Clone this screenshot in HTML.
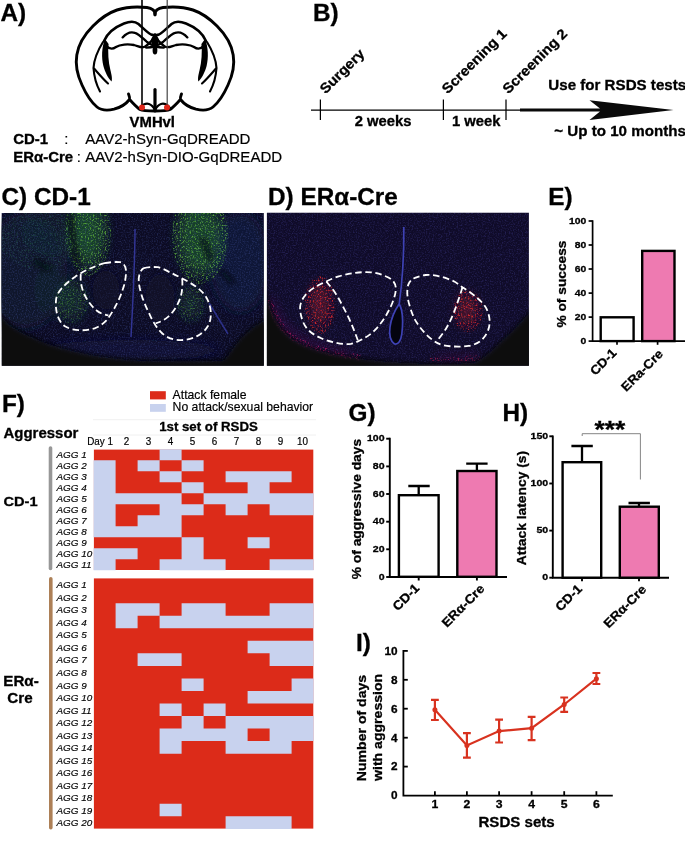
<!DOCTYPE html>
<html lang="en"><head><meta charset="utf-8"><title>Figure</title>
<style>html,body{margin:0;padding:0;background:#fff}svg{display:block}text{font-family:"Liberation Sans",sans-serif;fill:#000;stroke:#000;stroke-width:.18px}.b{font-weight:bold;stroke:#000;stroke-width:.3px}.i{font-style:italic;stroke:#000;stroke-width:.15px}</style></head><body>
<svg width="685" height="841" viewBox="0 0 685 841">
<rect width="685" height="841" fill="#fff"/>
<defs>
<filter id="spk" x="0" y="0" width="100%" height="100%" color-interpolation-filters="sRGB">
<feTurbulence type="fractalNoise" baseFrequency="0.75" numOctaves="2" seed="3" result="n"/>
<feColorMatrix in="n" type="matrix" values="0 0 0 0 0  0 0 0 0 0  0 0 0 0 0  2.6 0 0 0 -1.15"/>
<feComposite in="SourceGraphic" operator="in"/>
</filter>
<filter id="spk2" x="0" y="0" width="100%" height="100%" color-interpolation-filters="sRGB">
<feTurbulence type="fractalNoise" baseFrequency="0.6" numOctaves="3" seed="11" result="n"/>
<feColorMatrix in="n" type="matrix" values="0 0 0 0 0  0 0 0 0 0  0 0 0 0 0  0 4.0 0 0 -2.1"/>
<feComposite in="SourceGraphic" operator="in"/>
</filter>
<filter id="blur2"><feGaussianBlur stdDeviation="6"/></filter>
<filter id="blur1"><feGaussianBlur stdDeviation="2.5"/></filter>
<clipPath id="cC"><rect x="1.8" y="213" width="262" height="152.7"/></clipPath>
<clipPath id="cD"><rect x="266.9" y="212.8" width="262" height="152.9"/></clipPath>
</defs>
<text class="b" font-size="23.4" transform="translate(0.5,20.7) scale(1.04,1)">A)</text>
<text class="b" font-size="23.4" transform="translate(313,20.7) scale(1.04,1)">B)</text>
<text class="b" font-size="23.4" transform="translate(1.5,204.6) scale(1.04,1)">C) CD-1</text>
<text class="b" font-size="23.4" transform="translate(268,204.6) scale(1.04,1)">D) ERα-Cre</text>
<text class="b" font-size="23.4" transform="translate(548.2,205) scale(1.04,1)">E)</text>
<text class="b" font-size="23.4" transform="translate(2,412.3) scale(1.04,1)">F)</text>
<text class="b" font-size="23.4" transform="translate(348.5,420.5) scale(1.04,1)">G)</text>
<text class="b" font-size="23.4" transform="translate(502.5,420.5) scale(1.04,1)">H)</text>
<text class="b" font-size="23.4" transform="translate(356,651) scale(1.04,1)">I)</text>
<g id="brain" fill="none" stroke="#000" stroke-linecap="round" stroke-linejoin="round">
<g>
<path stroke-width="2.9" d="M155,14.8 C155.5,11 152,8 147,7.5 C138,6.5 126,7 117,10 C108,13 100,19 93,26 C85,34 78.5,44 76.8,55 C75.3,64 77.3,75 82,85 C86,94 91,102 97,107 C101,110.2 108,110.6 114,109.2 C120,107.6 126,104 129.5,99.5 C130,97 129,95.5 128.5,94 M129.5,99.5 C133,103 136,106.5 140,109.5 C143,111 150,111 155,111"/>
<path stroke-width="2.2" d="M140,108 C142,104.5 146,103 149,104 C152,105 154,108 155,110"/>
<path stroke-width="2.5" d="M104,41 C107,34 114,27.5 124,23.5 C130,21 135,21 138.5,24 C143,28 147,32.5 151,34.5 C152.5,35 154,35 155,34.8"/>
<path stroke-width="2.3" d="M122.6,37.4 C126,33.5 131,31.5 135,32.8 C139,34 143,38.5 147,42 C151,45 158,47.5 164,47.6"/>
<path stroke-width="2.3" d="M106,45.5 C109,49 112.5,49.5 116,47 C120,44.3 128,43.8 134,45 C138,46 141,48 144,47 C147,46 150,42 153,39.5"/>
<path stroke="none" fill="#000" d="M105,39 C101.6,47 101.4,58 103.4,66 C105,72 108,78 111.5,81.5 C112.6,79 111.4,74 110.4,70 C108.4,62 107.7,52 108.6,44 Z"/>
<path stroke-width="2.1" d="M103,42 C98,50 94,60 93.5,68 C94,76 96,84 100,91.5"/>
<path stroke-width="2.1" d="M94,68.5 C98,73 103,79 108,83.5"/>
</g>
<g transform="translate(310,0) scale(-1,1)">
<path stroke-width="2.9" d="M155,14.8 C155.5,11 152,8 147,7.5 C138,6.5 126,7 117,10 C108,13 100,19 93,26 C85,34 78.5,44 76.8,55 C75.3,64 77.3,75 82,85 C86,94 91,102 97,107 C101,110.2 108,110.6 114,109.2 C120,107.6 126,104 129.5,99.5 C130,97 129,95.5 128.5,94 M129.5,99.5 C133,103 136,106.5 140,109.5 C143,111 150,111 155,111"/>
<path stroke-width="2.2" d="M140,108 C142,104.5 146,103 149,104 C152,105 154,108 155,110"/>
<path stroke-width="2.5" d="M104,41 C107,34 114,27.5 124,23.5 C130,21 135,21 138.5,24 C143,28 147,32.5 151,34.5 C152.5,35 154,35 155,34.8"/>
<path stroke-width="2.3" d="M122.6,37.4 C126,33.5 131,31.5 135,32.8 C139,34 143,38.5 147,42 C151,45 158,47.5 164,47.6"/>
<path stroke-width="2.3" d="M106,45.5 C109,49 112.5,49.5 116,47 C120,44.3 128,43.8 134,45 C138,46 141,48 144,47 C147,46 150,42 153,39.5"/>
<path stroke="none" fill="#000" d="M105,39 C101.6,47 101.4,58 103.4,66 C105,72 108,78 111.5,81.5 C112.6,79 111.4,74 110.4,70 C108.4,62 107.7,52 108.6,44 Z"/>
<path stroke-width="2.1" d="M103,42 C98,50 94,60 93.5,68 C94,76 96,84 100,91.5"/>
<path stroke-width="2.1" d="M94,68.5 C98,73 103,79 108,83.5"/>
</g>
<path stroke="none" fill="#000" d="M155,33.5 C153.5,35 151.5,37.5 150.8,40 C151,42.5 152.5,44.5 152.8,47 C152.6,49.5 152.4,52 153.2,53.6 C154,54.8 156,54.8 156.8,53.6 C157.6,52 157.4,49.5 157.2,47 C157.5,44.5 159,42.5 159.2,40 C158.5,37.5 156.5,35 155,33.5 Z"/>
<path stroke="none" fill="#000" d="M153.6,13 L156.4,13 L155.6,15.6 L154.4,15.6 Z"/>
<path stroke-width="3.2" d="M155,89.5 L155,110"/>
<path stroke-width="1.6" stroke-linecap="butt" d="M142,0 L142,106"/>
<path stroke="#444" stroke-width="1.2" stroke-linecap="butt" d="M167.2,0 L167.2,106"/>
</g>
<circle cx="142" cy="107.6" r="3" fill="#e0261a"/><circle cx="167" cy="107.6" r="3" fill="#e0261a"/>
<text class="b" font-size="13.9" text-anchor="middle" transform="translate(152.3,127.4) scale(1.07,1)">VMHvl</text>
<text class="b" font-size="14" transform="translate(13.2,144.3) scale(1.07,1)">CD-1</text>
<text font-size="13.9" transform="translate(64.3,144.2) scale(1.07,1)">:</text>
<text font-size="14.05" transform="translate(85.3,144.3) scale(1.07,1)">AAV2-hSyn-GqDREADD</text>
<text class="b" font-size="14" transform="translate(13.2,162.3) scale(1.07,1)">ERα-Cre</text>
<text font-size="13.9" transform="translate(76.8,162.2) scale(1.07,1)">:</text>
<text font-size="14.05" transform="translate(85.3,162.3) scale(1.07,1)">AAV2-hSyn-DIO-GqDREADD</text>
<g stroke="#000" stroke-width="1.25" fill="none">
<path d="M311,110 L521,110"/>
<path d="M320.4,99.5 L320.4,120"/>
<path d="M443.4,99.5 L443.4,120"/>
<path d="M506,99.5 L506,120"/>
</g>
<path d="M520,108.4 L600,108.4 L589.5,100.3 L673.5,110 L589.5,119.9 L600,111.6 L520,111.6 Z" fill="#0a0a0a"/>
<text class="b" font-size="14" transform="translate(325.5,94.5) rotate(-45) scale(1.07,1)">Surgery</text>
<text class="b" font-size="14" transform="translate(447.6,94.5) rotate(-45) scale(1.07,1)">Screening 1</text>
<text class="b" font-size="14" transform="translate(508.2,94.5) rotate(-45) scale(1.07,1)">Screening 2</text>
<text class="b" font-size="13.8" transform="translate(354.8,126.2) scale(1.07,1)">2 weeks</text>
<text class="b" font-size="13.8" transform="translate(452,126.2) scale(1.07,1)">1 week</text>
<text class="b" font-size="14.15" transform="translate(548.3,89.6) scale(1.07,1)">Use for RSDS tests</text>
<text class="b" font-size="14.15" transform="translate(554.3,136.3) scale(1.07,1)">~ Up to 10 months</text>
<g clip-path="url(#cC)">
<rect x="1" y="212" width="264" height="156" fill="#0c0b23"/>
<g filter="url(#blur2)">
<ellipse cx="25" cy="270" rx="42" ry="58" fill="#121a2e" opacity="0.7"/>
<ellipse cx="55" cy="232" rx="34" ry="24" fill="#10262e" opacity="0.5"/>
<ellipse cx="240" cy="262" rx="30" ry="50" fill="#141a3c" opacity="0.8"/>
<ellipse cx="130" cy="350" rx="90" ry="10" fill="#10123a" opacity="0.7"/>
<ellipse cx="88" cy="232" rx="17" ry="34" fill="#1c5e2a" opacity="0.62"/>
<ellipse cx="199" cy="236" rx="21" ry="38" fill="#1c5e2a" opacity="0.62"/>
<ellipse cx="72" cy="300" rx="14" ry="20" fill="#16482c" opacity="0.4"/>
<ellipse cx="191" cy="303" rx="11" ry="16" fill="#16482c" opacity="0.38"/>
<ellipse cx="50" cy="290" rx="16" ry="26" fill="#122c2e" opacity="0.35"/>
</g>
<rect x="1" y="213" width="263" height="154" fill="#4a5aa8" filter="url(#spk)" opacity="0.36"/>
<g filter="url(#spk2)" opacity="0.62"><ellipse cx="88" cy="232" rx="23" ry="44" fill="#78dc40"/><ellipse cx="200" cy="236" rx="28" ry="48" fill="#78dc40"/></g>
<g filter="url(#spk2)" opacity="0.4"><ellipse cx="72" cy="302" rx="16" ry="22" fill="#6ad040"/><ellipse cx="191" cy="305" rx="13" ry="18" fill="#6ad040"/><ellipse cx="40" cy="240" rx="40" ry="30" fill="#2e7054"/></g>
<g filter="url(#blur1)" fill="none" stroke="#06070f" stroke-linecap="round" opacity="0.8"><path d="M70,216 C72,232 75,248 77,262" stroke-width="4"/><path d="M203,240 C206,246 208,250 210,258" stroke-width="5"/><path d="M36,262 L48,268" stroke-width="6"/><path d="M222,272 L232,282" stroke-width="5"/></g>
<g filter="url(#blur1)"><ellipse cx="106" cy="290" rx="14" ry="20" fill="#0e0d2c" opacity="0.5"/><ellipse cx="160" cy="298" rx="15" ry="24" fill="#0e0d2c" opacity="0.5"/></g>
<path d="M135,229 C135,260 133,300 131,337" stroke="#383ca8" stroke-width="1.5" fill="none" opacity="0.85"/>
<path d="M209,303 L228,334" stroke="#3a40b0" stroke-width="1.5" fill="none" opacity="0.7"/>
<path d="M-10,306 L1,316 C10,326 20,332 30,336 C50,345 65,349 79,352 C100,357 120,359 135,360 C160,361 200,361 224,360 C230,352 234,346 237,343 C242,336 250,328 264,320 L275,314 L275,380 L-10,380 L-10,306 Z" fill="#07080a" filter="url(#blur1)"/>
<g fill="none" stroke="#fff" stroke-width="1.8" stroke-dasharray="6.5,3.6">
<path d="M104.5,263.2 C110,262 116,261.8 120.2,262.2 C124,263 126,267 126.1,271.1 C126,276 125.2,281 124.2,284.9 C122,292 119.5,299 116.3,304.6 C113.5,310 110,316 106.4,320.4 C103,324 99,326.8 94.6,328.3 C89.5,329.8 84,330.5 78.8,330.2 C73.5,329.8 68.5,328.5 65,326.3 C61,323.5 58.5,319 57.2,314.5 C55.8,309.5 55.5,304 56.2,298.7 C57,294 60,290 63.1,286.9 C66.5,283.2 70.5,280 74.9,277 C79,274 84,271.3 88.7,269.1 C94,266.7 99.5,264.5 104.5,263.2"/>
<path d="M80.8,274.1 C80.3,278.5 80.8,283 81.8,286.9 C82.8,291 84.5,295 86.7,298.7 C89.2,303 92.7,307.3 96.6,310.5 C100,313.2 104.5,315 108.4,315.4"/>
<path d="M143.8,268.1 C148,267 153,266.8 157.6,267.2 C161.7,268 165.6,270 169.4,272.1 C173.4,273.9 177.3,275.9 181.2,278 C186,280.4 190.8,283 195,285.9 C199.2,288.9 203.2,292.5 205.9,296.7 C208.8,301.3 210.5,307 210.8,312.5 C211,317.5 210.2,322.5 207.8,326.3 C205.3,330.5 201.3,334 197,336.1 C192.2,338.6 186.6,339.9 181.2,340.1 C176.5,340.2 171.5,339.2 167.4,337.1 C163.5,335 160.3,331.8 157.6,328.3 C154.4,324.1 151.9,319.3 149.7,314.5 C147.1,309.4 144.7,304 142.8,298.7 C141,293.6 139.5,288.2 138.9,282.9 C138.5,279.5 138.8,276 139.9,273.1 C140.7,271 142,269 143.8,268.1"/>
<path d="M182.2,279 C182.6,283.6 182.4,288.4 181.6,292.8 C180.7,297.6 178.8,302.4 176.3,306.6 C174,310.6 171,314.5 167.4,317.4 C164,320.2 159.7,322.3 155.6,323.3"/>
</g>
</g>
<g clip-path="url(#cD)">
<rect x="266" y="212" width="264" height="155" fill="#0f0b28"/>
<g filter="url(#blur2)">
<ellipse cx="320" cy="304" rx="9" ry="20" fill="#701226" opacity="0.65"/>
<ellipse cx="467" cy="310" rx="9" ry="15" fill="#701226" opacity="0.65"/>
<path d="M268,300 C274,318 282,328 290,334 C305,345 330,352 351,356" stroke="#6a1050" stroke-width="5" fill="none" opacity="0.6"/>
<path d="M436,358 C450,360 465,358 477,356" stroke="#5a1038" stroke-width="5" fill="none" opacity="0.5"/>
</g>
<rect x="266" y="212" width="264" height="155" fill="#48449c" filter="url(#spk)" opacity="0.38"/>
<g filter="url(#spk2)" opacity="0.8"><ellipse cx="320" cy="305" rx="15" ry="29" fill="#f02c2c"/><ellipse cx="468" cy="311" rx="15" ry="21" fill="#f02c2c"/><path d="M268,298 C274,318 282,330 290,336 C305,347 330,354 360,358" stroke="#c81c70" stroke-width="7" fill="none"/><path d="M430,360 C450,362 465,360 480,357" stroke="#b01c50" stroke-width="6" fill="none"/></g>
<path d="M403.8,227 C404,250 402.5,280 399.2,304 C395,310 391.2,318 390,327 C389,334 390.5,341 394.5,344 C398.5,345 401,340 401.8,334 C402.8,326 402.8,316 401.5,310 C400.8,307 400,305.5 399.2,304" stroke="#3e42b4" stroke-width="1.7" fill="#04040f"/>
<path d="M258,270 L267,296 C272,315 280,328 288,335 C300,346 325,353 351,357 C380,362 440,366 476,362 C485,356 492,350 497,345 C505,337 517,327 530,311 L540,300 L540,380 L258,380 L258,270 Z" fill="#07080a" filter="url(#blur1)"/>
<g fill="none" stroke="#fff" stroke-width="1.8" stroke-dasharray="6.5,3.6">
<path d="M326.3,281.5 C330,279.5 334.5,277.8 338.6,276.4 C344,274.8 349.5,273.6 354.9,272.9 C360.3,272.2 366,271.9 371.3,272.3 C375.5,272.8 379.8,273.8 383.5,275.4 C387,276.8 390.5,278.2 392.7,280.5 C395,283 396,286.4 395.8,289.7 C395.5,294 394.2,298.2 392.7,302 C390.8,307 388.2,311.8 385.6,316.3 C382.6,321 379.2,325.6 375.4,329.6 C371.8,333.3 367.6,336.4 363.1,338.8 C359.3,341 355,343 350.8,343.9 C346.2,344.6 341.2,343.9 336.5,342.8 C331,341.6 325.3,340.2 320.2,337.7 C315.6,335.7 311.2,333 307.9,329.6 C305,326.4 302.9,322.4 301.8,318.3 C300.6,314.4 299.8,310 300.2,306.1 C300.8,302.3 302.5,298.7 304.9,295.8 C307.4,292.6 310.5,289.9 314,287.7 C317.8,285.3 322.2,283.3 326.3,281.5"/>
<path d="M326.3,281.5 C329,284.8 332,288.2 334.5,291.8 C337.6,296.3 340.2,301.2 342.7,306.1 C345.6,311.4 348.3,316.9 350.8,322.4 C353.4,328.4 355.8,334.6 358,340.8"/>
<path d="M413.4,278.5 C417.2,276.8 421.5,275.5 425.7,275 C430.4,274.6 435.3,275.3 440,276.4 C444.9,277.6 449.8,279.4 454.3,281.5 C457.2,283.2 459.8,285.3 462.4,287.3 C466.6,290 470.8,292.8 474.7,295.8 C478.4,298.8 482.2,302.2 484.9,306.1 C487.3,309.7 488.8,314 489.4,318.3 C490,322.4 489.5,326.8 488,330.6 C486.5,334.5 484,338 480.8,340.8 C477.3,343.5 473,345.2 468.6,345.9 C463.9,346.7 459,346.7 454.3,346.5 C450.2,346.3 445.9,345.9 442,344.9 C439,344 436.2,342.6 433.8,340.8 C430,338.2 426.6,335 423.6,331.6 C420.5,328.2 417.7,324.4 415.4,320.4 C413,316 411.2,311 409.7,306.1 C408.5,302.1 407.5,297.9 407.3,293.8 C407.2,290.7 407.4,287.4 408.3,284.6 C409.2,282 411.2,279.8 413.4,278.5"/>
<path d="M462.4,287.3 C461.3,291.6 459.8,295.8 458.4,299.9 C456.8,304.7 455.1,309.5 453.2,314.2 C451.2,319.1 448.8,323.9 446.1,328.5 C443.5,332.8 440.3,337 436.9,340.8"/>
</g>
</g>
<g stroke="#000" fill="none" stroke-width="1.7">
<path d="M592.6,220.2 L592.6,341.1 L685,341.1"/>
<path d="M588.6,341.1 L592.6,341.1"/>
<path d="M588.6,317.1 L592.6,317.1"/>
<path d="M588.6,293.1 L592.6,293.1"/>
<path d="M588.6,269.0 L592.6,269.0"/>
<path d="M588.6,245.0 L592.6,245.0"/>
<path d="M588.6,221.0 L592.6,221.0"/>
<path d="M617,341.1 L617,344.8"/>
<path d="M657.6,341.1 L657.6,344.8"/>
</g>
<rect x="600.7" y="317.3" width="32.9" height="23.8" fill="#fff" stroke="#000" stroke-width="2.4"/>
<rect x="642.2" y="250.9" width="32.3" height="90.2" fill="#ee7ab1" stroke="#000" stroke-width="2.4"/>
<text class="b" font-size="9.7" text-anchor="end" transform="translate(586.4,344.2) scale(1.07,1)">0</text>
<text class="b" font-size="9.7" text-anchor="end" transform="translate(586.4,320.2) scale(1.07,1)">20</text>
<text class="b" font-size="9.7" text-anchor="end" transform="translate(586.4,296.2) scale(1.07,1)">40</text>
<text class="b" font-size="9.7" text-anchor="end" transform="translate(586.4,272.1) scale(1.07,1)">60</text>
<text class="b" font-size="9.7" text-anchor="end" transform="translate(586.4,248.1) scale(1.07,1)">80</text>
<text class="b" font-size="9.7" text-anchor="end" transform="translate(586.4,224.1) scale(1.07,1)">100</text>
<text class="b" font-size="13.3" transform="translate(566,327.6) rotate(-90) scale(1.035,1)">% of success</text>
<text class="b" font-size="12.6" text-anchor="end" transform="translate(617.4,353.8) rotate(-45) scale(1.07,1)">CD-1</text>
<text class="b" font-size="12.6" text-anchor="end" transform="translate(663.9,354.6) rotate(-45) scale(1.07,1)">ERa-Cre</text>
<g stroke="#000" fill="none" stroke-width="1.9">
<path d="M389.8,437.8 L389.8,577 L507,577"/>
<path d="M386.2,577.0 L389.8,577.0"/>
<path d="M386.2,549.3 L389.8,549.3"/>
<path d="M386.2,521.7 L389.8,521.7"/>
<path d="M386.2,494.0 L389.8,494.0"/>
<path d="M386.2,466.4 L389.8,466.4"/>
<path d="M386.2,438.7 L389.8,438.7"/>
<path d="M418.7,576.8 L418.7,580.5"/>
<path d="M476.9,576.8 L476.9,580.5"/>
<path stroke-width="2.3" d="M418.7,495 L418.7,486 M408.3,486 L429.7,486"/>
<path stroke-width="2.3" d="M476.9,471 L476.9,463.6 M466.2,463.6 L487.6,463.6"/>
</g>
<rect x="398.9" y="495.2" width="39.7" height="81.6" fill="#fff" stroke="#000" stroke-width="2.4"/>
<rect x="457.3" y="471" width="39.2" height="105.8" fill="#ee7ab1" stroke="#000" stroke-width="2.4"/>
<text class="b" font-size="9.9" text-anchor="end" transform="translate(384.6,579.6) scale(1.07,1)">0</text>
<text class="b" font-size="9.9" text-anchor="end" transform="translate(384.6,551.9) scale(1.07,1)">20</text>
<text class="b" font-size="9.9" text-anchor="end" transform="translate(384.6,524.3) scale(1.07,1)">40</text>
<text class="b" font-size="9.9" text-anchor="end" transform="translate(384.6,496.6) scale(1.07,1)">60</text>
<text class="b" font-size="9.9" text-anchor="end" transform="translate(384.6,469.0) scale(1.07,1)">80</text>
<text class="b" font-size="9.9" text-anchor="end" transform="translate(384.6,441.3) scale(1.07,1)">100</text>
<text class="b" font-size="13.2" transform="translate(360.8,579.3) rotate(-90) scale(1.047,1)">% of aggressive days</text>
<text class="b" font-size="12.7" text-anchor="end" transform="translate(420.2,589) rotate(-45) scale(1.07,1)">CD-1</text>
<text class="b" font-size="12.7" text-anchor="end" transform="translate(485.4,589.5) rotate(-45) scale(1.07,1)">ERα-Cre</text>
<g stroke="#000" fill="none" stroke-width="1.9">
<path d="M552.8,435.4 L552.8,577.7 L669,577.7"/>
<path d="M549.3,577.7 L552.8,577.7"/>
<path d="M549.3,530.6 L552.8,530.6"/>
<path d="M549.3,483.5 L552.8,483.5"/>
<path d="M549.3,436.3 L552.8,436.3"/>
<path d="M582,577.6 L582,581.2"/>
<path d="M639,577.6 L639,581.2"/>
<path stroke-width="2.3" d="M582,461.5 L582,446 M571.4,446 L592.8,446"/>
<path stroke-width="2.3" d="M639,506 L639,503 M628.5,503 L649.9,503"/>
</g>
<rect x="562.6" y="462.2" width="38.6" height="115.5" fill="#fff" stroke="#000" stroke-width="2.4"/>
<rect x="619.8" y="506.7" width="39" height="71" fill="#ee7ab1" stroke="#000" stroke-width="2.4"/>
<text class="b" font-size="9.9" text-anchor="end" transform="translate(548.2,580.3) scale(1.07,1)">0</text>
<text class="b" font-size="9.9" text-anchor="end" transform="translate(548.2,533.2) scale(1.07,1)">50</text>
<text class="b" font-size="9.9" text-anchor="end" transform="translate(548.2,486.1) scale(1.07,1)">100</text>
<text class="b" font-size="9.9" text-anchor="end" transform="translate(548.2,438.9) scale(1.07,1)">150</text>
<path d="M582.2,436 L582.2,433.7 L640.4,433.7 L640.4,479.5" stroke="#777" stroke-width="0.9" fill="none"/>
<text class="b" font-size="24" text-anchor="middle" transform="translate(609.8,437.6) scale(1.1,1)">***</text>
<text class="b" font-size="13.3" transform="translate(526.2,565.3) rotate(-90) scale(1.04,1)">Attack latency (s)</text>
<text class="b" font-size="12.7" text-anchor="end" transform="translate(582.8,589.6) rotate(-45) scale(1.07,1)">CD-1</text>
<text class="b" font-size="12.7" text-anchor="end" transform="translate(647.2,590.2) rotate(-45) scale(1.07,1)">ERα-Cre</text>
<g stroke="#000" fill="none" stroke-width="1.8">
<path d="M403.4,650 L403.4,795.6 L612.8,795.6"/>
<path d="M403.4,766.6 L407.8,766.6"/>
<path d="M403.4,737.7 L407.8,737.7"/>
<path d="M403.4,708.7 L407.8,708.7"/>
<path d="M403.4,679.8 L407.8,679.8"/>
<path d="M403.4,650.9 L407.8,650.9"/>
<path d="M434.9,795.6 L434.9,791.2"/>
<path d="M466.9,795.6 L466.9,791.2"/>
<path d="M499.1,795.6 L499.1,791.2"/>
<path d="M531.6,795.6 L531.6,791.2"/>
<path d="M564.2,795.6 L564.2,791.2"/>
<path d="M596.4,795.6 L596.4,791.2"/>
</g>
<g stroke="#d8321f" stroke-width="2.2" fill="none">
<path d="M434.9,709.8 L466.9,745.4 L499.1,731.1 L531.6,728.2 L564.2,704.5 L596.4,678.7"/>
<path d="M434.9,699.8 L434.9,720 M431.0,699.8 L438.79999999999995,699.8 M431.0,720 L438.79999999999995,720"/>
<path d="M466.9,733.1 L466.9,757.6 M463.0,733.1 L470.79999999999995,733.1 M463.0,757.6 L470.79999999999995,757.6"/>
<path d="M499.1,719.6 L499.1,742.5 M495.20000000000005,719.6 L503.0,719.6 M495.20000000000005,742.5 L503.0,742.5"/>
<path d="M531.6,716.8 L531.6,740.1 M527.7,716.8 L535.5,716.8 M527.7,740.1 L535.5,740.1"/>
<path d="M564.2,697.5 L564.2,711.9 M560.3000000000001,697.5 L568.1,697.5 M560.3000000000001,711.9 L568.1,711.9"/>
<path d="M596.4,673 L596.4,684 M592.5,673 L600.3,673 M592.5,684 L600.3,684"/>
</g>
<circle cx="434.9" cy="709.8" r="2.5" fill="#d8321f"/>
<circle cx="466.9" cy="745.4" r="2.5" fill="#d8321f"/>
<circle cx="499.1" cy="731.1" r="2.5" fill="#d8321f"/>
<circle cx="531.6" cy="728.2" r="2.5" fill="#d8321f"/>
<circle cx="564.2" cy="704.5" r="2.5" fill="#d8321f"/>
<circle cx="596.4" cy="678.7" r="2.5" fill="#d8321f"/>
<text class="b" font-size="11" text-anchor="end" transform="translate(397.6,799.3) scale(1.07,1)">0</text>
<text class="b" font-size="11" text-anchor="end" transform="translate(397.6,770.4) scale(1.07,1)">2</text>
<text class="b" font-size="11" text-anchor="end" transform="translate(397.6,741.5) scale(1.07,1)">4</text>
<text class="b" font-size="11" text-anchor="end" transform="translate(397.6,712.5) scale(1.07,1)">6</text>
<text class="b" font-size="11" text-anchor="end" transform="translate(397.6,683.6) scale(1.07,1)">8</text>
<text class="b" font-size="11" text-anchor="end" transform="translate(397.6,654.7) scale(1.07,1)">10</text>
<text class="b" font-size="11.4" text-anchor="middle" transform="translate(434.9,808.3) scale(1.07,1)">1</text>
<text class="b" font-size="11.4" text-anchor="middle" transform="translate(466.9,808.3) scale(1.07,1)">2</text>
<text class="b" font-size="11.4" text-anchor="middle" transform="translate(499.1,808.3) scale(1.07,1)">3</text>
<text class="b" font-size="11.4" text-anchor="middle" transform="translate(531.6,808.3) scale(1.07,1)">4</text>
<text class="b" font-size="11.4" text-anchor="middle" transform="translate(564.2,808.3) scale(1.07,1)">5</text>
<text class="b" font-size="11.4" text-anchor="middle" transform="translate(596.4,808.3) scale(1.07,1)">6</text>
<text class="b" font-size="14.1" text-anchor="middle" transform="translate(516.6,827.2) scale(1.07,1)">RSDS sets</text>
<text class="b" font-size="13.6" text-anchor="middle" transform="translate(365.5,728) rotate(-90) scale(1.035,1)">Number of days</text>
<text class="b" font-size="13.6" text-anchor="middle" transform="translate(382.1,727.4) rotate(-90) scale(1.035,1)">with aggression</text>
<rect x="150" y="391.2" width="15.8" height="8.2" fill="#dc2b19"/>
<rect x="150" y="404" width="15.8" height="7.8" fill="#c8d2ee"/>
<text font-size="12.1" transform="translate(172.6,398.8) scale(1.01,1)">Attack female</text>
<text font-size="12.1" transform="translate(172.6,411) scale(1.01,1)">No attack/sexual behavior</text>
<path d="M93,419.7 L316,419.7 M93,435 L316,435" stroke="#ececec" stroke-width="0.8"/>
<text class="b" font-size="14" transform="translate(3.5,437.8) scale(1.07,1)">Aggressor</text>
<text class="b" font-size="12.4" text-anchor="middle" transform="translate(208.5,431) scale(1.07,1)">1st set of RSDS</text>
<text font-size="10.1" text-anchor="middle" transform="translate(100.1,444.8) scale(0.98,1)">Day 1</text>
<text font-size="10.1" text-anchor="middle" transform="translate(126.6,444.8) scale(0.98,1)">2</text>
<text font-size="10.1" text-anchor="middle" transform="translate(148.6,444.8) scale(0.98,1)">3</text>
<text font-size="10.1" text-anchor="middle" transform="translate(170.6,444.8) scale(0.98,1)">4</text>
<text font-size="10.1" text-anchor="middle" transform="translate(192.6,444.8) scale(0.98,1)">5</text>
<text font-size="10.1" text-anchor="middle" transform="translate(214.6,444.8) scale(0.98,1)">6</text>
<text font-size="10.1" text-anchor="middle" transform="translate(236.6,444.8) scale(0.98,1)">7</text>
<text font-size="10.1" text-anchor="middle" transform="translate(258.6,444.8) scale(0.98,1)">8</text>
<text font-size="10.1" text-anchor="middle" transform="translate(280.6,444.8) scale(0.98,1)">9</text>
<text font-size="10.1" text-anchor="middle" transform="translate(302.6,444.8) scale(0.98,1)">10</text>
<rect x="93.9" y="449.6" width="219.4" height="120.40" fill="#dc2b19"/>
<path fill="#c8d2ee" d="M159.6,449.30H181.6V460.30H159.6ZM93.6,460.30H115.6V471.30H93.6ZM137.6,460.30H159.6V471.30H137.6ZM181.6,460.30H203.6V471.30H181.6ZM93.6,471.30H115.6V482.30H93.6ZM159.6,471.30H181.6V482.30H159.6ZM225.6,471.30H291.6V482.30H225.6ZM93.6,482.30H115.6V493.30H93.6ZM181.6,482.30H203.6V493.30H181.6ZM247.6,482.30H269.6V493.30H247.6ZM93.6,493.30H181.6V504.30H93.6ZM203.6,493.30H313.6V504.30H203.6ZM93.6,504.30H115.6V515.30H93.6ZM159.6,504.30H203.6V515.30H159.6ZM225.6,504.30H247.6V515.30H225.6ZM269.6,504.30H313.6V515.30H269.6ZM93.6,515.30H115.6V526.30H93.6ZM137.6,515.30H181.6V526.30H137.6ZM93.6,526.30H181.6V537.30H93.6ZM181.6,537.30H203.6V548.30H181.6ZM247.6,537.30H269.6V548.30H247.6ZM93.6,548.30H137.6V559.30H93.6ZM181.6,548.30H203.6V559.30H181.6ZM93.6,559.30H115.6V570.30H93.6ZM159.6,559.30H225.6V570.30H159.6ZM269.6,559.30H313.6V570.30H269.6Z"/>
<rect x="93.9" y="578.4" width="219.4" height="250.20" fill="#dc2b19"/>
<path fill="#c8d2ee" d="M115.6,603.18H159.6V615.72H115.6ZM181.6,603.18H225.6V615.72H181.6ZM269.6,603.18H313.6V615.72H269.6ZM115.6,615.72H137.6V628.26H115.6ZM159.6,615.72H313.6V628.26H159.6ZM247.6,640.80H313.6V653.34H247.6ZM137.6,653.34H181.6V665.88H137.6ZM269.6,653.34H313.6V665.88H269.6ZM181.6,678.42H203.6V690.96H181.6ZM291.6,678.42H313.6V690.96H291.6ZM247.6,690.96H313.6V703.50H247.6ZM159.6,703.50H181.6V716.04H159.6ZM203.6,703.50H225.6V716.04H203.6ZM181.6,716.04H203.6V728.58H181.6ZM225.6,716.04H313.6V728.58H225.6ZM159.6,728.58H247.6V741.12H159.6ZM269.6,728.58H313.6V741.12H269.6ZM159.6,741.12H181.6V753.66H159.6ZM225.6,741.12H291.6V753.66H225.6ZM159.6,803.82H181.6V816.36H159.6ZM225.6,816.36H291.6V828.90H225.6Z"/>
<text class="i" font-size="9.9" transform="translate(56.5,458.1) scale(1.0,1)">AGG 1</text>
<text class="i" font-size="9.9" transform="translate(56.5,469.1) scale(1.0,1)">AGG 2</text>
<text class="i" font-size="9.9" transform="translate(56.5,480.1) scale(1.0,1)">AGG 3</text>
<text class="i" font-size="9.9" transform="translate(56.5,491.1) scale(1.0,1)">AGG 4</text>
<text class="i" font-size="9.9" transform="translate(56.5,502.1) scale(1.0,1)">AGG 5</text>
<text class="i" font-size="9.9" transform="translate(56.5,513.1) scale(1.0,1)">AGG 6</text>
<text class="i" font-size="9.9" transform="translate(56.5,524.1) scale(1.0,1)">AGG 7</text>
<text class="i" font-size="9.9" transform="translate(56.5,535.1) scale(1.0,1)">AGG 8</text>
<text class="i" font-size="9.9" transform="translate(56.5,546.1) scale(1.0,1)">AGG 9</text>
<text class="i" font-size="9.9" transform="translate(56.5,557.1) scale(1.0,1)">AGG 10</text>
<text class="i" font-size="9.9" transform="translate(56.5,568.1) scale(1.0,1)">AGG 11</text>
<text class="i" font-size="9.9" transform="translate(56.5,588.2) scale(1.0,1)">AGG 1</text>
<text class="i" font-size="9.9" transform="translate(56.5,600.7) scale(1.0,1)">AGG 2</text>
<text class="i" font-size="9.9" transform="translate(56.5,613.2) scale(1.0,1)">AGG 3</text>
<text class="i" font-size="9.9" transform="translate(56.5,625.8) scale(1.0,1)">AGG 4</text>
<text class="i" font-size="9.9" transform="translate(56.5,638.3) scale(1.0,1)">AGG 5</text>
<text class="i" font-size="9.9" transform="translate(56.5,650.9) scale(1.0,1)">AGG 6</text>
<text class="i" font-size="9.9" transform="translate(56.5,663.4) scale(1.0,1)">AGG 7</text>
<text class="i" font-size="9.9" transform="translate(56.5,675.9) scale(1.0,1)">AGG 8</text>
<text class="i" font-size="9.9" transform="translate(56.5,688.5) scale(1.0,1)">AGG 9</text>
<text class="i" font-size="9.9" transform="translate(56.5,701.0) scale(1.0,1)">AGG 10</text>
<text class="i" font-size="9.9" transform="translate(56.5,713.6) scale(1.0,1)">AGG 11</text>
<text class="i" font-size="9.9" transform="translate(56.5,726.1) scale(1.0,1)">AGG 12</text>
<text class="i" font-size="9.9" transform="translate(56.5,738.6) scale(1.0,1)">AGG 13</text>
<text class="i" font-size="9.9" transform="translate(56.5,751.2) scale(1.0,1)">AGG 14</text>
<text class="i" font-size="9.9" transform="translate(56.5,763.7) scale(1.0,1)">AGG 15</text>
<text class="i" font-size="9.9" transform="translate(56.5,776.3) scale(1.0,1)">AGG 16</text>
<text class="i" font-size="9.9" transform="translate(56.5,788.8) scale(1.0,1)">AGG 17</text>
<text class="i" font-size="9.9" transform="translate(56.5,801.3) scale(1.0,1)">AGG 18</text>
<text class="i" font-size="9.9" transform="translate(56.5,813.9) scale(1.0,1)">AGG 19</text>
<text class="i" font-size="9.9" transform="translate(56.5,826.4) scale(1.0,1)">AGG 20</text>
<path d="M50.5,448 L50.5,568.5" stroke="#979797" stroke-width="3.6" stroke-linecap="round"/>
<path d="M50.8,578.8 L50.8,827.8" stroke="#ad8057" stroke-width="3.6" stroke-linecap="round"/>
<text class="b" font-size="13.7" transform="translate(3.4,506) scale(1.07,1)">CD-1</text>
<text class="b" font-size="14.2" text-anchor="middle" transform="translate(21,686.2) scale(1.07,1)">ERα-</text>
<text class="b" font-size="14.2" text-anchor="middle" transform="translate(20,703.4) scale(1.07,1)">Cre</text>
</svg></body></html>
